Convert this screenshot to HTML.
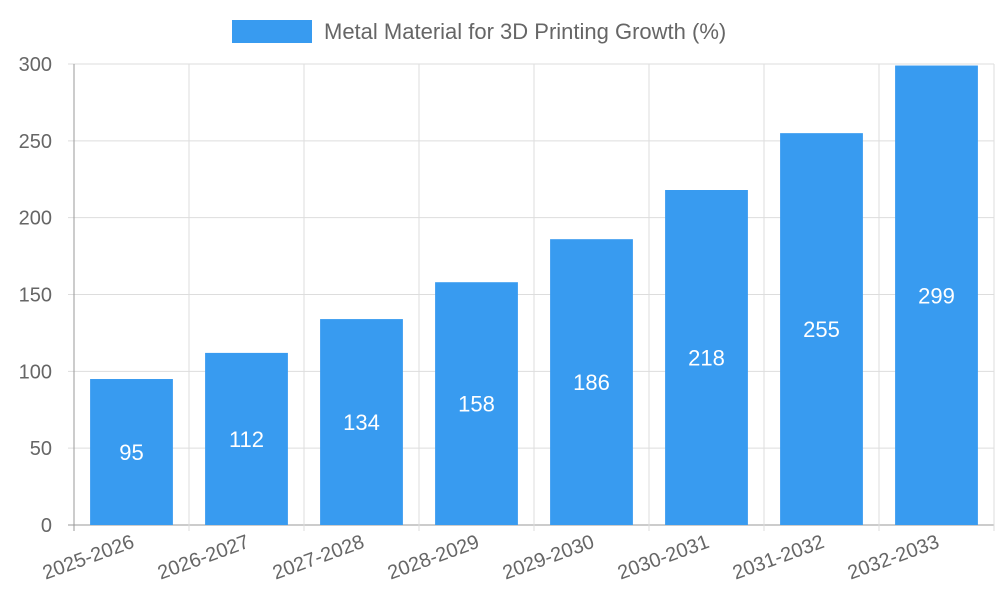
<!DOCTYPE html>
<html><head><meta charset="utf-8"><style>
body{margin:0;background:#fff;font-family:"Liberation Sans",sans-serif}
</style></head><body>
<svg id="c" width="1000" height="600" xmlns="http://www.w3.org/2000/svg" font-family="Liberation Sans, sans-serif"></svg>
<script>
const categories=["2025-2026","2026-2027","2027-2028","2028-2029","2029-2030","2030-2031","2031-2032","2032-2033"];
const values=[95,112,134,158,186,218,255,299];
const yTicks=[0,50,100,150,200,250,300];
const seriesName="Metal Material for 3D Printing Growth (%)";
const svg=document.getElementById('c');const NS="http://www.w3.org/2000/svg";
const L=74,R=994,T=64,B=525,yMax=300;
const band=(R-L)/categories.length;
const x=i=>L+i*band;
const y=v=>B-(v/yMax)*(B-T);
function el(t,a,p){const e=document.createElementNS(NS,t);for(const k in a)e.setAttribute(k,a[k]);(p||svg).appendChild(e);return e;}
// legend
const lg=el('g',{});


el('rect',{x:232,y:20,width:80,height:23,fill:'#389bf0'},lg);
const lt=el('text',{x:324,y:39,'font-size':22,fill:'#666'},lg);lt.textContent=seriesName;
// grid
yTicks.forEach(v=>{
  const g=el('line',{x1:68,x2:R,y1:y(v),y2:y(v),stroke:v===0?'#999':'#ddd','stroke-width':1});
  
  
  const t=el('text',{x:52,y:y(v)+7,'font-size':20,fill:'#666','text-anchor':'end'});
  
  
  t.textContent=v;
});
for(let i=0;i<=categories.length;i++){
  const g=el('line',{x1:x(i),x2:x(i),y1:T,y2:B+6,stroke:i===0?'#999':'#ddd','stroke-width':1});
  
  
}
const bw=band*0.72;
categories.forEach((c,i)=>{
  const cx=x(i)+band/2;
  const r=el('rect',{x:cx-bw/2,y:y(values[i]),width:bw,height:B-y(values[i]),fill:'#389bf0'});
  
  
  const v=el('text',{x:cx,y:(y(values[i])+B)/2+8,'font-size':22,fill:'#fff','text-anchor':'middle'});
  
  
  v.textContent=values[i];
  const t=el('text',{x:cx+4,y:B+22,'font-size':20,fill:'#666','text-anchor':'end',transform:`rotate(-20 ${cx+4} ${B+22})`});
  
  
  t.textContent=c;
});
</script>
</body></html>
